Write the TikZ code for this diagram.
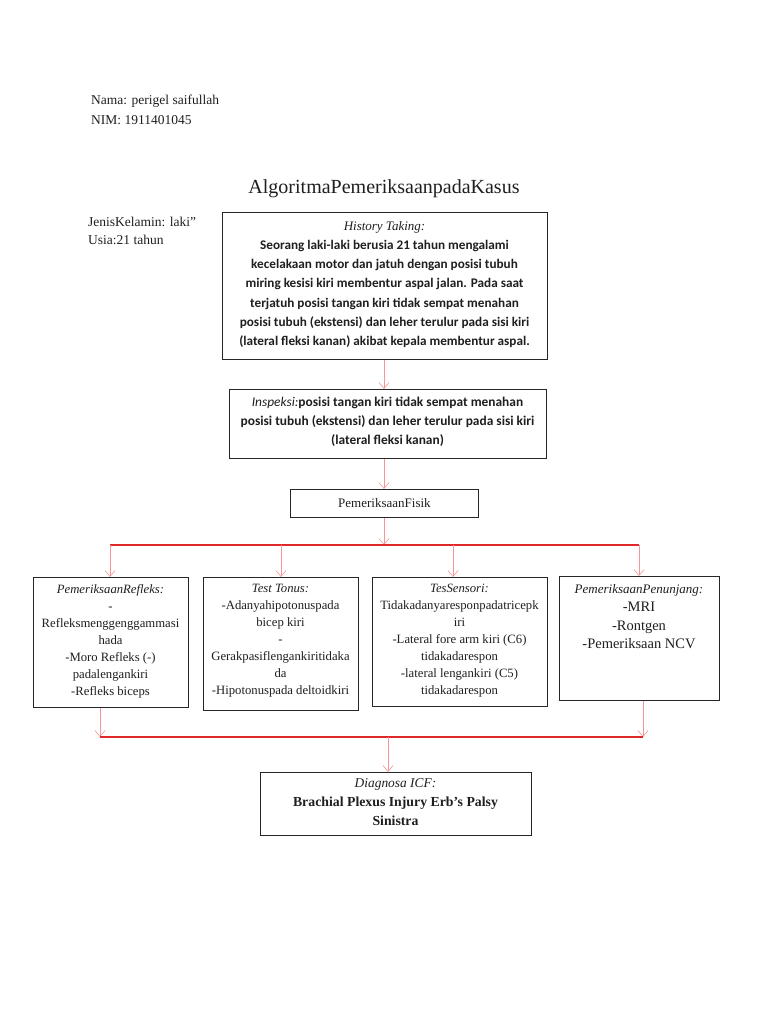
\documentclass[tikz,border=0pt]{standalone}
\usepackage{fontspec}
\setmainfont{Liberation Serif}
\newfontfamily\calib{Carlito}
\usetikzlibrary{arrows.meta}
\newcommand\hbold{\calib\bfseries}
\begin{document}
\begin{tikzpicture}[x=1pt,y=-1pt,
 box/.style={draw=black!85, line width=0.9pt, inner sep=0pt, anchor=north west},
 txt/.style={inner sep=0pt, align=center, text=black!88, font=\fontsize{12.7}{17}\selectfont},
 arr/.style={draw={rgb,255:red,244;green,150;blue,150}, line width=0.6pt, -{Straight Barb[length=6pt,width=10pt]}},
 bus/.style={draw={rgb,255:red,225;green,40;blue,40}, line width=1.3pt}]

\useasboundingbox[fill=white] (0,0) rectangle (768,1024);

% header texts
\node[txt, anchor=north west, align=left, font=\fontsize{13.5}{20}\selectfont] (nama) at (91,95) {Nama: perigel saifullah\\NIM: 1911401045};
\node[txt, font=\fontsize{20}{24}\selectfont] (title) at (384,189) {AlgoritmaPemeriksaanpadaKasus};
\node[txt, anchor=north west, align=left, font=\fontsize{13.5}{18}\selectfont] (jenis) at (88,217) {JenisKelamin: laki”\\Usia:21 tahun};

% boxes
\node[box, minimum width=325pt, minimum height=147pt] (hist) at (222,212) {};
\node[box, minimum width=317pt, minimum height=69pt] (insp) at (229,389) {};
\node[box, minimum width=188pt, minimum height=28pt] (fisik) at (290,489) {};
\node[box, minimum width=155pt, minimum height=130pt] (b1) at (33,577) {};
\node[box, minimum width=155pt, minimum height=133pt] (b2) at (203,577) {};
\node[box, minimum width=175pt, minimum height=129pt] (b3) at (372,577) {};
\node[box, minimum width=160pt, minimum height=124pt] (b4) at (559,576) {};
\node[box, minimum width=271pt, minimum height=63pt] (diag) at (260,772) {};

% box texts
\node[txt, anchor=north, font=\fontsize{13.2}{19.2}\selectfont] (histT) at (384.5,221) {%
 \itshape\fontsize{13}{19.2}\selectfont History Taking:\\
 \hbold Seorang laki-laki berusia 21 tahun mengalami\\
 \hbold kecelakaan motor dan jatuh dengan posisi tubuh\\
 \hbold miring kesisi kiri membentur aspal jalan. Pada saat\\
 \hbold terjatuh posisi tangan kiri tidak sempat menahan\\
 \hbold posisi tubuh (ekstensi) dan leher terulur pada sisi kiri\\
 \hbold (lateral fleksi kanan) akibat kepala membentur aspal.};
\node[txt, anchor=north, font=\fontsize{13.4}{19}\selectfont] (inspT) at (387.5,397) {%
 {\calib\itshape Inspeksi:}\hbold posisi tangan kiri tidak sempat menahan\\
 \hbold posisi tubuh (ekstensi) dan leher terulur pada sisi kiri\\
 \hbold (lateral fleksi kanan)};
\node[txt, font=\fontsize{13}{17}\selectfont] (fisikT) at (fisik.center) {PemeriksaanFisik};

\node[txt, anchor=north] (b1T) at (110.5,584) {%
 \itshape PemeriksaanRefleks:\\ -\\ Refleksmenggenggammasi\\ hada\\ -Moro Refleks (-)\\ padalengankiri\\ -Refleks biceps};
\node[txt, anchor=north] (b2T) at (280.5,584) {%
 \itshape Test Tonus:\\ -Adanyahipotonuspada\\ bicep kiri\\ -\\ Gerakpasiflengankiritidaka\\ da\\ -Hipotonuspada deltoidkiri};
\node[txt, anchor=north] (b3T) at (459.5,584) {%
 \itshape TesSensori:\\ Tidakadanyaresponpadatricepk\\ iri\\ -Lateral fore arm kiri (C6)\\ tidakadarespon\\ -lateral lengankiri (C5)\\ tidakadarespon};
\node[txt, anchor=north, font=\fontsize{14.5}{18.5}\selectfont] (b4T) at (639,584) {%
 \itshape\fontsize{13}{18.5}\selectfont PemeriksaanPenunjang:\\ -MRI\\ -Rontgen\\ -Pemeriksaan NCV};

\node[txt, anchor=north, font=\fontsize{13.8}{19}\selectfont] (diagT) at (395.5,778) {%
 \itshape\fontsize{13.4}{19}\selectfont Diagnosa ICF:\\
 \bfseries Brachial Plexus Injury Erb’s Palsy\\
 \bfseries Sinistra};

% connectors
\coordinate (j1) at (384,545);
\coordinate (busL) at (110,545);
\coordinate (busR) at (639,545);
\coordinate (t3) at (453,545);
\coordinate (j2) at (388,737);
\coordinate (busL2) at (100,737);
\coordinate (busR2) at (643,737);

\draw[arr] (hist.south -| 384,0) -- (insp.north -| 384,0);
\draw[arr] (insp.south -| 384,0) -- (fisik.north -| 384,0);
\draw[arr] (fisik.south -| j1) -- (j1);
\draw[bus] (busL) -- (busR);
\draw[arr] (busL) -- (b1.north -| busL);
\draw[arr] (b2.north |- j1) -- (b2.north);
\draw[arr] (t3) -- (b3.north -| t3);
\draw[arr] (busR) -- (b4.north -| busR);

\draw[arr] (b1.south -| busL2) -- (busL2);
\draw[arr] (b4.south -| busR2) -- (busR2);
\draw[bus] (busL2) -- (busR2);
\draw[arr] (j2) -- (diag.north -| j2);
\end{tikzpicture}
\end{document}
